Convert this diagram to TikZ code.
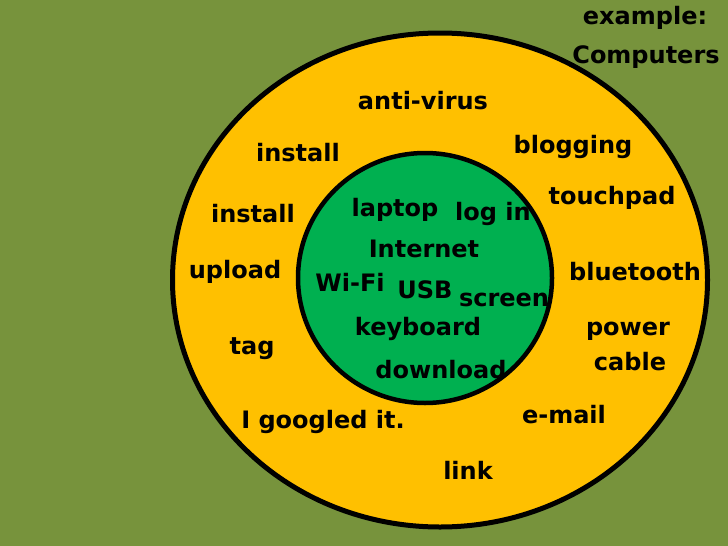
\documentclass[tikz,border=0pt]{standalone}
\usepackage{fontspec}
\usetikzlibrary{shapes.geometric}
\setmainfont{DejaVu Sans}
\definecolor{bgolive}{HTML}{77933C}
\definecolor{ringorange}{HTML}{FFC000}
\definecolor{coregreen}{HTML}{00B050}
\begin{document}
\begin{tikzpicture}[x=1pt,y=-1pt,
  word/.style={font=\fontsize{24}{26}\selectfont\bfseries, text=black, inner sep=0pt, anchor=center},
  ring/.style={ellipse, draw=black, inner sep=0pt, outer sep=0pt}]
\fill[bgolive] (0,0) rectangle (728,546);
\useasboundingbox (0,0) rectangle (728,546);
\node[ring, line width=5pt, fill=ringorange, minimum width=535pt, minimum height=494pt] (outer) at (440,280) {};
\node[ring, line width=4.5pt, fill=coregreen, minimum width=254pt, minimum height=250pt] (inner) at (425,278) {};
\node[word] (ex) at (645,18) {example:};
\node[word] (comp) at (646,57) {Computers};
\node[word] (av) at (423,101) {anti-virus};
\node[word] (inst1) at (298,153) {install};
\node[word] (blog) at (573,147) {blogging};
\node[word] (touch) at (612,198) {touchpad};
\node[word] (inst2) at (253,214) {install};
\node[word] (lap) at (395,210) {laptop};
\node[word] (log) at (493,214) {log in};
\node[word] (int) at (424,249) {Internet};
\node[word] (up) at (235,272) {upload};
\node[word] (wifi) at (350,282) {Wi-Fi};
\node[word] (usb) at (425,290) {USB};
\node[word] (scr) at (504,300) {screen};
\node[word] (blue) at (635,272) {bluetooth};
\node[word] (key) at (418,329) {keyboard};
\node[word] (pow) at (628,331) {power};
\node[word] (cab) at (630,362) {cable};
\node[word] (tag) at (252,349) {tag};
\node[word] (down) at (441,370) {download};
\node[word] (goog) at (323,422) {I googled it.};
\node[word] (mail) at (564,415) {e-mail};
\node[word] (link) at (468,470) {link};
\end{tikzpicture}
\end{document}
